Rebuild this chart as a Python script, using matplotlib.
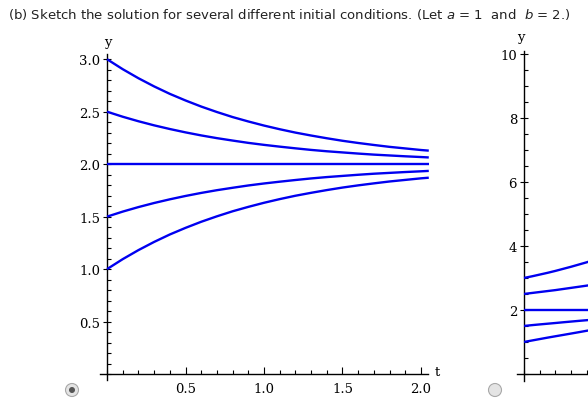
import numpy as np
import matplotlib
matplotlib.use('Agg')
import matplotlib.pyplot as plt
from matplotlib.patches import Circle
from matplotlib.ticker import MultipleLocator, FormatStrFormatter


# left panel: solutions that settle onto y = 2 (read every 0.1 in t)
t_left = [0, 0.1, 0.2, 0.3, 0.4, 0.5, 0.6, 0.7, 0.8, 0.9, 1.0,
          1.1, 1.2, 1.3, 1.4, 1.5, 1.6, 1.7, 1.8, 1.9, 2.0, 2.05]
y_left_30 = [3.0, 2.905, 2.819, 2.741, 2.670, 2.607, 2.549, 2.497, 2.449, 2.407, 2.368,
             2.333, 2.301, 2.273, 2.247, 2.223, 2.202, 2.183, 2.165, 2.150, 2.135, 2.129]
y_left_25 = [2.5, 2.452, 2.409, 2.370, 2.335, 2.303, 2.274, 2.248, 2.225, 2.203, 2.184,
             2.167, 2.151, 2.136, 2.123, 2.112, 2.101, 2.091, 2.083, 2.075, 2.068, 2.064]
y_left_20 = [2.0] * 22
y_left_15 = [1.5, 1.548, 1.591, 1.630, 1.665, 1.697, 1.726, 1.752, 1.775, 1.797, 1.816,
             1.833, 1.849, 1.864, 1.877, 1.888, 1.899, 1.909, 1.917, 1.925, 1.932, 1.936]
y_left_10 = [1.0, 1.095, 1.181, 1.259, 1.330, 1.393, 1.451, 1.503, 1.551, 1.593, 1.632,
             1.667, 1.699, 1.727, 1.753, 1.777, 1.798, 1.817, 1.835, 1.850, 1.865, 1.871]

# right panel (cut off at the edge of the picture)
t_right = [0, 0.05, 0.1, 0.15, 0.2, 0.25, 0.3, 0.35, 0.4, 0.45, 0.5]
y_right_30 = [3.0, 3.05, 3.105, 3.16, 3.22, 3.285, 3.35, 3.42, 3.49, 3.57, 3.65]
y_right_25 = [2.5, 2.53, 2.56, 2.59, 2.62, 2.655, 2.69, 2.725, 2.76, 2.795, 2.83]
y_right_20 = [2.0] * 11
y_right_15 = [1.5, 1.525, 1.548, 1.57, 1.592, 1.615, 1.637, 1.659, 1.68, 1.70, 1.72]
y_right_10 = [1.0, 1.045, 1.09, 1.135, 1.178, 1.22, 1.263, 1.306, 1.35, 1.39, 1.43]

left_yticks = [0.5, 1.0, 1.5, 2.0, 2.5, 3.0]
right_yticks = [2, 4, 6, 8, 10]
xticks = [0.5, 1.0, 1.5, 2.0]

title = '(b) Sketch the solution for several different initial conditions. (Let $a$ = 1  and  $b$ = 2.)'

W, H = 588, 406
blue = '#0000f0'
tick_font = {'family': 'DejaVu Serif', 'size': 9.5}

fig = plt.figure(figsize=(W / 100, H / 100), dpi=100)
fig.text(8 / W, 1 - 15 / H, title, fontsize=9.5, color='#222222',
         ha='left', va='center', family='DejaVu Sans')


def px_axes(left, top, right, bottom):
    return fig.add_axes([left / W, 1 - bottom / H, (right - left) / W, (bottom - top) / H])


def style(ax, ymajor, yminor, yfmt, xlabels=True):
    for s in ['top', 'right']:
        ax.spines[s].set_visible(False)
    ax.spines['left'].set_position(('data', 0))
    ax.spines['bottom'].set_position(('data', 0))
    for s in ['left', 'bottom']:
        ax.spines[s].set_linewidth(1.0)
    ax.set_xticks(xticks)
    ax.xaxis.set_major_formatter(FormatStrFormatter('%.1f'))
    ax.xaxis.set_minor_locator(MultipleLocator(0.1))
    ax.set_yticks(ymajor)
    ax.yaxis.set_major_formatter(FormatStrFormatter(yfmt))
    ax.yaxis.set_minor_locator(MultipleLocator(yminor))
    ax.tick_params(axis='y', which='major', direction='inout', length=6, width=0.8, pad=2)
    ax.tick_params(axis='y', which='minor', direction='in', length=3, width=0.8)
    ax.tick_params(axis='x', which='major', direction='in', length=5, width=0.8, pad=6,
                   labelbottom=xlabels)
    ax.tick_params(axis='x', which='minor', direction='in', length=3, width=0.8)
    for lab in ax.get_xticklabels() + ax.get_yticklabels():
        lab.set_fontfamily(tick_font['family'])
        lab.set_fontsize(tick_font['size'])
    ax.patch.set_alpha(0)


ax1 = px_axes(100, 55, 428, 381)
ax1.set_xlim(-0.045, 2.045)
ax1.set_ylim(-0.057, 3.05)
for y in [y_left_30, y_left_25, y_left_20, y_left_15, y_left_10]:
    ax1.plot(t_left, y, color=blue, lw=1.7, solid_capstyle='butt', clip_on=False, zorder=3)
style(ax1, left_yticks, 0.1, '%.1f')
ax1.text(0.005, 3.17, 'y', ha='center', va='center', fontdict=tick_font)
ax1.text(2.085, 0.02, 't', ha='left', va='center', fontdict=tick_font, clip_on=False)

ax2 = px_axes(517, 52, 845, 382)
ax2.set_xlim(-0.045, 2.045)
ax2.set_ylim(-0.22, 10.09)
for y in [y_right_30, y_right_25, y_right_20, y_right_15, y_right_10]:
    ax2.plot(t_right, y, color=blue, lw=1.7, solid_capstyle='butt', zorder=3)
# the right panel's t labels lie past the edge of the picture
style(ax2, right_yticks, 0.5, '%d', xlabels=False)
ax2.text(-0.02, 10.53, 'y', ha='center', va='center', fontdict=tick_font)

# radio buttons under the two panels
for cx, selected in [(72, True), (495, False)]:
    fig.patches.append(Circle((cx, H - 391), 6.5, transform=None,
                              facecolor='#e4e4e4', edgecolor='#a8a8a8', lw=0.8))
    if selected:
        fig.patches.append(Circle((cx, H - 391), 3, transform=None,
                                  facecolor='#555555', edgecolor='none'))

fig.savefig('out.png', dpi=100)
